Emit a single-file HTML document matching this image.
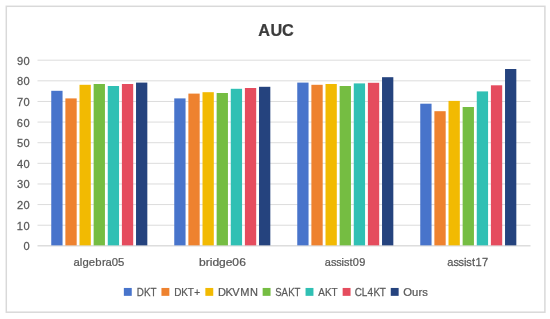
<!DOCTYPE html>
<html><head><meta charset="utf-8"><title>AUC</title>
<style>html,body{margin:0;padding:0;background:#fff}svg{display:block}text{font-family:"Liberation Sans",sans-serif;fill:#595959;stroke:#595959;stroke-width:0.25px}</style></head><body>
<svg width="550" height="319" viewBox="0 0 550 319">
<rect x="0" y="0" width="550" height="319" fill="#fff"/>
<rect x="6.3" y="6.3" width="538.6" height="305.9" fill="#fff" stroke="#d9d9d9" stroke-width="1.5"/>
<line x1="37.5" x2="530.5" y1="245.85" y2="245.85" stroke="#cccccc" stroke-width="1"/>
<text transform="scale(0.9600,1)" x="24.53" y="250.35" font-size="11.6">0</text>
<line x1="37.5" x2="530.5" y1="225.22" y2="225.22" stroke="#dcdcdc" stroke-width="1"/>
<text transform="scale(0.9600,1)" x="17.45 24.53" y="229.72" font-size="11.6">10</text>
<line x1="37.5" x2="530.5" y1="204.59" y2="204.59" stroke="#dcdcdc" stroke-width="1"/>
<text transform="scale(0.9600,1)" x="17.61 24.53" y="209.09" font-size="11.6">20</text>
<line x1="37.5" x2="530.5" y1="183.97" y2="183.97" stroke="#dcdcdc" stroke-width="1"/>
<text transform="scale(0.9600,1)" x="17.64 24.53" y="188.47" font-size="11.6">30</text>
<line x1="37.5" x2="530.5" y1="163.34" y2="163.34" stroke="#dcdcdc" stroke-width="1"/>
<text transform="scale(0.9600,1)" x="17.64 24.53" y="167.84" font-size="11.6">40</text>
<line x1="37.5" x2="530.5" y1="142.71" y2="142.71" stroke="#dcdcdc" stroke-width="1"/>
<text transform="scale(0.9600,1)" x="17.62 24.53" y="147.21" font-size="11.6">50</text>
<line x1="37.5" x2="530.5" y1="122.08" y2="122.08" stroke="#dcdcdc" stroke-width="1"/>
<text transform="scale(0.9600,1)" x="17.57 24.53" y="126.58" font-size="11.6">60</text>
<line x1="37.5" x2="530.5" y1="101.46" y2="101.46" stroke="#dcdcdc" stroke-width="1"/>
<text transform="scale(0.9600,1)" x="17.60 24.53" y="105.96" font-size="11.6">70</text>
<line x1="37.5" x2="530.5" y1="80.83" y2="80.83" stroke="#dcdcdc" stroke-width="1"/>
<text transform="scale(0.9600,1)" x="17.61 24.53" y="85.33" font-size="11.6">80</text>
<line x1="37.5" x2="530.5" y1="60.20" y2="60.20" stroke="#dcdcdc" stroke-width="1"/>
<text transform="scale(0.9600,1)" x="17.61 24.53" y="64.70" font-size="11.6">90</text>
<rect x="51.25" y="90.80" width="11.3" height="154.55" fill="#4874CB"/>
<rect x="65.38" y="98.40" width="11.3" height="146.95" fill="#EE822F"/>
<rect x="79.51" y="84.80" width="11.3" height="160.55" fill="#F2BA02"/>
<rect x="93.64" y="84.00" width="11.3" height="161.35" fill="#75BD42"/>
<rect x="107.77" y="86.00" width="11.3" height="159.35" fill="#30C0B4"/>
<rect x="121.90" y="84.00" width="11.3" height="161.35" fill="#E54C5E"/>
<rect x="136.03" y="82.60" width="11.3" height="162.75" fill="#25437E"/>
<rect x="174.25" y="98.40" width="11.3" height="146.95" fill="#4874CB"/>
<rect x="188.38" y="93.60" width="11.3" height="151.75" fill="#EE822F"/>
<rect x="202.51" y="92.20" width="11.3" height="153.15" fill="#F2BA02"/>
<rect x="216.64" y="93.00" width="11.3" height="152.35" fill="#75BD42"/>
<rect x="230.77" y="88.80" width="11.3" height="156.55" fill="#30C0B4"/>
<rect x="244.90" y="88.00" width="11.3" height="157.35" fill="#E54C5E"/>
<rect x="259.03" y="86.80" width="11.3" height="158.55" fill="#25437E"/>
<rect x="297.25" y="82.60" width="11.3" height="162.75" fill="#4874CB"/>
<rect x="311.38" y="84.80" width="11.3" height="160.55" fill="#EE822F"/>
<rect x="325.51" y="84.00" width="11.3" height="161.35" fill="#F2BA02"/>
<rect x="339.64" y="86.00" width="11.3" height="159.35" fill="#75BD42"/>
<rect x="353.77" y="83.40" width="11.3" height="161.95" fill="#30C0B4"/>
<rect x="367.90" y="82.80" width="11.3" height="162.55" fill="#E54C5E"/>
<rect x="382.03" y="77.20" width="11.3" height="168.15" fill="#25437E"/>
<rect x="420.25" y="103.70" width="11.3" height="141.65" fill="#4874CB"/>
<rect x="434.38" y="111.20" width="11.3" height="134.15" fill="#EE822F"/>
<rect x="448.51" y="100.90" width="11.3" height="144.45" fill="#F2BA02"/>
<rect x="462.64" y="107.00" width="11.3" height="138.35" fill="#75BD42"/>
<rect x="476.77" y="91.40" width="11.3" height="153.95" fill="#30C0B4"/>
<rect x="490.90" y="85.30" width="11.3" height="160.05" fill="#E54C5E"/>
<rect x="505.03" y="69.00" width="11.3" height="176.35" fill="#25437E"/>
<text transform="scale(0.9835,1)" x="74.66 81.10 83.87 90.26 96.88 103.60 107.26 113.57 120.02" y="266.00" font-size="11.5">algebra05</text>
<text transform="scale(1.0490,1)" x="189.64 196.16 199.99 202.56 208.87 215.13 221.52 228.08" y="266.00" font-size="11.5">bridge06</text>
<text transform="scale(0.9527,1)" x="340.93 347.50 352.95 358.46 360.97 366.87 370.35 377.04" y="266.00" font-size="11.5">assist09</text>
<text transform="scale(0.9641,1)" x="463.90 470.32 475.71 481.26 483.71 489.50 493.15 499.96" y="266.00" font-size="11.5">assist17</text>
<text transform="scale(0.9517,1)" x="271.40 284.19 296.29" y="35.80" font-size="17.1" font-weight="bold" style="fill:#3c3c3c;stroke:#3c3c3c">AUC</text>
<rect x="123.85" y="287.95" width="7.9" height="7.9" fill="#4874CB"/>
<text transform="scale(0.8606,1)" x="158.99 167.22 174.77" y="296.20" font-size="11.4">DKT</text>
<rect x="161.45" y="287.95" width="7.9" height="7.9" fill="#EE822F"/>
<text transform="scale(0.8795,1)" x="198.10 206.21 213.60 221.00" y="296.20" font-size="11.4">DKT+</text>
<rect x="205.35" y="287.95" width="7.9" height="7.9" fill="#F2BA02"/>
<text transform="scale(0.9670,1)" x="225.43 233.18 240.14 248.44 258.57" y="296.20" font-size="11.4">DKVMN</text>
<rect x="262.65" y="287.95" width="7.9" height="7.9" fill="#75BD42"/>
<text transform="scale(0.8406,1)" x="327.35 334.81 342.95 350.43" y="296.20" font-size="11.4">SAKT</text>
<rect x="305.55" y="287.95" width="7.9" height="7.9" fill="#30C0B4"/>
<text transform="scale(0.8743,1)" x="364.03 371.78 379.07" y="296.20" font-size="11.4">AKT</text>
<rect x="342.65" y="287.95" width="7.9" height="7.9" fill="#E54C5E"/>
<text transform="scale(0.8737,1)" x="406.05 414.19 420.73 427.42 434.71" y="296.20" font-size="11.4">CL4KT</text>
<rect x="390.75" y="287.95" width="7.9" height="7.9" fill="#25437E"/>
<text transform="scale(0.9894,1)" x="407.55 416.40 422.95 426.88" y="296.20" font-size="11.4">Ours</text>
</svg></body></html>
